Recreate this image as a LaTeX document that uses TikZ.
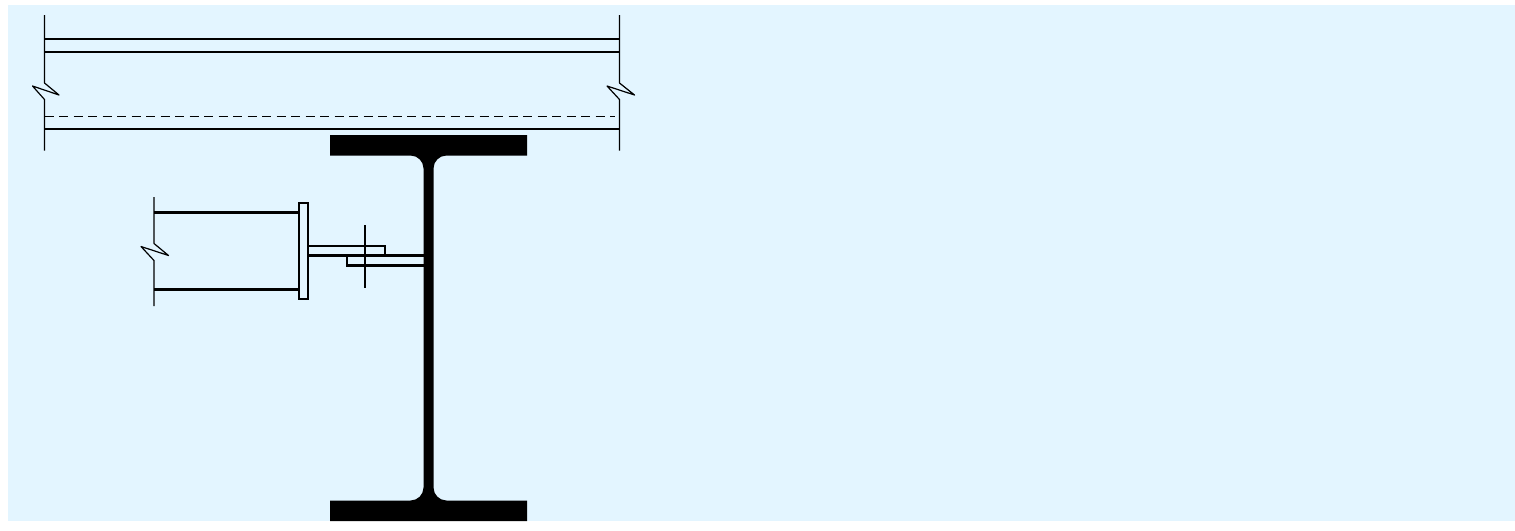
\documentclass[tikz,border=0pt]{standalone}
\usepackage{amsmath}
\usepackage{amssymb}
\usepackage{tikz}
\definecolor{panelblue}{HTML}{E3F5FF}
\tikzset{
    thinline/.style={line width=1.2pt,line join=round},
    heavyline/.style={line width=2.2pt},
    beamline/.style={line width=2.8pt},
    dashline/.style={line width=1.2pt,dash pattern=on 9pt off 5.5pt}
}
\begin{document}
\begin{tikzpicture}[x=1pt,y=-1pt]
    \useasboundingbox (0,0) rectangle (1515,530);
    \fill [panelblue] (8,5) rectangle (1515,521);
    % slab
    \draw [heavyline] (44.5,39) -- (619.5,39);
    \draw [heavyline] (44.5,52) -- (619.5,52);
    \draw [dashline] (44.5,116.5) -- (615,116.5);
    \draw [heavyline] (44.5,129) -- (619.5,129);
    \draw [thinline] (44.5,15) -- (44.5,83) -- (59,95) -- (32.5,86) -- (44.5,99.5) -- (44.5,150.5);
    \draw [thinline] (619.5,15) -- (619.5,83) -- (634.5,95) -- (607,86) -- (619.5,99.5) -- (619.5,150.5);
    % steel column
    \fill (330,135) -- (527,135) -- (527,155.5) -- (446.5,155.5) arc (-90:-180:13) -- (433.5,487.5) arc (180:90:13)
        -- (527,500.5) -- (527,521) -- (330,521) -- (330,500.5) -- (410.5,500.5) arc (90:0:13)
        -- (423.5,168.5) arc (0:-90:13) -- (330,155.5) -- cycle;
    % beam
    \draw [thinline] (154,197) -- (154,243.5) -- (168.5,255.5) -- (141,246.5) -- (154,260.5) -- (154,306);
    \draw [beamline] (154,212.5) -- (299,212.5);
    \draw [beamline] (154,289.5) -- (299,289.5);
    \draw [heavyline] (299,203) rectangle (308,299);
    \draw [heavyline] (308,255.5) -- (308,246) -- (385,246) -- (385,255.5);
    \draw [heavyline] (308,255.5) -- (423.5,255.5);
    \draw [heavyline] (423.5,265.5) -- (347,265.5) -- (347,255.5);
    \draw [thinline] (365,225) -- (365,287.5);
\end{tikzpicture}
\end{document}
